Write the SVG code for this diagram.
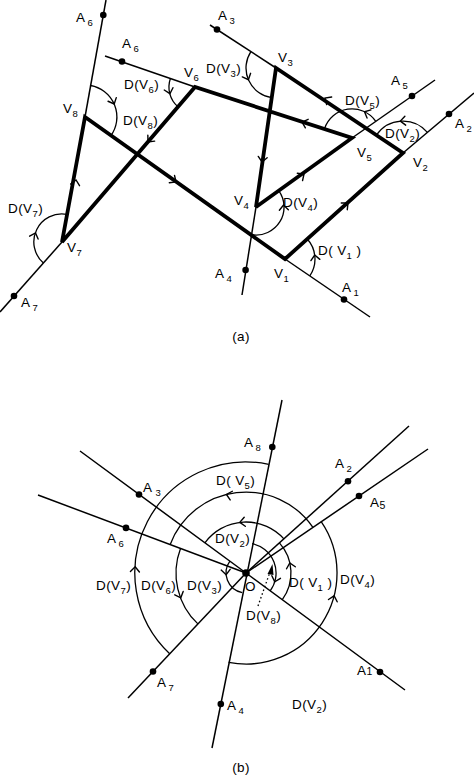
<svg xmlns="http://www.w3.org/2000/svg" xmlns:xlink="http://www.w3.org/1999/xlink" width="474" height="775" viewBox="0 0 474 775">
<style>
.thin{stroke:#000;stroke-width:1.5;fill:none}
.thick{stroke:#000;stroke-width:3.8;fill:none;stroke-linejoin:miter;stroke-miterlimit:2.5}
.arc{stroke:#000;stroke-width:1.3;fill:none}
.chev{stroke:#000;stroke-width:1.4;fill:none;stroke-linecap:round;stroke-linejoin:miter}
.dot{fill:#000}
.dotted{stroke:#000;stroke-width:1.3;fill:none;stroke-dasharray:1.5 2.5}
text{font-family:"Liberation Sans",Arial,sans-serif;font-size:13.5px;fill:#000;letter-spacing:0.4px}
.s{font-size:9.5px}
</style>
<defs>
<path id="chev" class="chev" d="M-5,-4.5 L0,0 L-5,4.5"/>
<circle id="pt" class="dot" r="3.3"/>
</defs>
<rect width="474" height="775" fill="#fff"/>

<!-- ================= (a) ================= -->
<g id="a-connectors">
<line class="thin" x1="106" y1="0" x2="85" y2="117"/>
<line class="thin" x1="0" y1="312" x2="62" y2="242"/>
<line class="thin" x1="105" y1="56" x2="195" y2="87"/>
<line class="thin" x1="210" y1="25" x2="276" y2="68"/>
<line class="thin" x1="256" y1="207" x2="242" y2="295"/>
<line class="thin" x1="352" y1="138" x2="435" y2="80"/>
<line class="thin" x1="403" y1="153" x2="474" y2="93"/>
<line class="thin" x1="285" y1="259" x2="370" y2="317"/>
<polygon class="thick" points="285,259 403,153 276,68 256,207 352,138 195,87 62,242 85,117"/>
<use xlink:href="#chev" transform="translate(348,203) rotate(-41.9)"/>
<use xlink:href="#chev" transform="translate(325,98) rotate(213.8)"/>
<use xlink:href="#chev" transform="translate(262,162) rotate(98.2)"/>
<use xlink:href="#chev" transform="translate(304,174) rotate(-35.7)"/>
<use xlink:href="#chev" transform="translate(302,122) rotate(198)"/>
<use xlink:href="#chev" transform="translate(148,142) rotate(130.6)"/>
<use xlink:href="#chev" transform="translate(76,180) rotate(-79.6)"/>
<use xlink:href="#chev" transform="translate(176,182) rotate(35.4)"/>
</g>

<g id="a-angles">
<path class="arc" d="M67,214.4 A28,28 0 0,0 43.4,263"/>
<use xlink:href="#chev" transform="translate(35.5,232.9) rotate(-71)"/>
<path class="arc" d="M90.7,85.5 A32,32 0 0,1 111,135.5"/>
<use xlink:href="#chev" transform="translate(114.2,104) rotate(66)"/>
<path class="arc" d="M170.4,78.5 A26,26 0 0,0 178,106.8"/>
<use xlink:href="#chev" transform="translate(169.9,93.7) rotate(75)"/>
<path class="arc" d="M250.9,51.6 A30,30 0 0,0 271.7,97.7"/>
<use xlink:href="#chev" transform="translate(248.4,79.7) rotate(67)"/>
<path class="arc" d="M324.4,129 A29,29 0 0,1 375.8,121.3"/>
<use xlink:href="#chev" transform="translate(364.5,111.8) rotate(205.6)"/>
<path class="arc" d="M376.4,135.2 A32,32 0 0,1 427.4,132.4"/>
<use xlink:href="#chev" transform="translate(400.3,121.1) rotate(175)"/>
<path class="arc" d="M278.7,190.6 A28,28 0 0,1 251.6,234.7"/>
<use xlink:href="#chev" transform="translate(283.5,205) rotate(-94)"/>
<path class="arc" d="M307.3,239 A30,30 0 0,1 309.8,275.9"/>
<use xlink:href="#chev" transform="translate(314.7,255) rotate(-97.6)"/>
</g>

<g id="a-points">
<use xlink:href="#pt" x="103.3" y="15"/>
<use xlink:href="#pt" x="122" y="61.5"/>
<use xlink:href="#pt" x="217" y="29.5"/>
<use xlink:href="#pt" x="412" y="96"/>
<use xlink:href="#pt" x="449" y="114"/>
<use xlink:href="#pt" x="344" y="299.5"/>
<use xlink:href="#pt" x="245.6" y="270"/>
<use xlink:href="#pt" x="14" y="296"/>
</g>

<g id="a-labels">
<text x="76" y="22">A<tspan class="s" dx="2" dy="4">6</tspan></text>
<text x="122" y="48">A<tspan class="s" dx="2" dy="4">6</tspan></text>
<text x="63" y="113">V<tspan class="s" dy="4">8</tspan></text>
<text x="184" y="77">V<tspan class="s" dy="4">6</tspan></text>
<text x="124" y="89">D(V<tspan class="s" dy="4">6</tspan><tspan dy="-4">)</tspan></text>
<text x="123" y="125">D(V<tspan class="s" dy="4">8</tspan><tspan dy="-4">)</tspan></text>
<text x="218" y="20">A<tspan class="s" dx="2" dy="4">3</tspan></text>
<text x="278" y="62">V<tspan class="s" dy="4">3</tspan></text>
<text x="206" y="73">D(V<tspan class="s" dy="4">3</tspan><tspan dy="-4">)</tspan></text>
<text x="391" y="85">A<tspan class="s" dx="2" dy="4">5</tspan></text>
<text x="345" y="105">D(V<tspan class="s" dy="4">5</tspan><tspan dy="-4">)</tspan></text>
<text x="385" y="138">D(V<tspan class="s" dy="4">2</tspan><tspan dy="-4">)</tspan></text>
<text x="455" y="128">A<tspan class="s" dx="2" dy="4">2</tspan></text>
<text x="357" y="157">V<tspan class="s" dy="4">5</tspan></text>
<text x="413" y="167">V<tspan class="s" dy="4">2</tspan></text>
<text x="234" y="205">V<tspan class="s" dy="4">4</tspan></text>
<text x="283" y="207">D(V<tspan class="s" dy="4">4</tspan><tspan dy="-4">)</tspan></text>
<text x="318" y="255">D( V<tspan class="s" dy="4">1</tspan><tspan dy="-4"> )</tspan></text>
<text x="67" y="252">V<tspan class="s" dy="4">7</tspan></text>
<text x="8" y="213">D(V<tspan class="s" dy="4">7</tspan><tspan dy="-4">)</tspan></text>
<text x="215" y="278">A<tspan class="s" dx="2" dy="4">4</tspan></text>
<text x="274" y="278">V<tspan class="s" dy="4">1</tspan></text>
<text x="342" y="292">A<tspan class="s" dx="2" dy="4">1</tspan></text>
<text x="21" y="307">A<tspan class="s" dx="2" dy="4">7</tspan></text>
<text x="241" y="341" text-anchor="middle">(a)</text>
</g>

<!-- ================= (b) ================= -->
<g id="b-connectors">
<line class="thin" x1="282" y1="400" x2="212" y2="748"/>
<polyline class="thin" points="80,451 246,573 405,690"/>
<line class="thin" x1="38" y1="495" x2="246" y2="573"/>
<line class="thin" x1="246" y1="573" x2="409" y2="426"/>
<line class="thin" x1="246" y1="573" x2="428" y2="449"/>
<line class="thin" x1="246" y1="573" x2="128" y2="698"/>
</g>

<g id="b-angles">
<path class="arc" d="M169.7,653.7 A111,111 0 0,1 268.7,464.3"/>
<use xlink:href="#chev" transform="translate(135.2,566.8) rotate(-86.8)"/>
<path class="arc" d="M180.5,548.4 A70,70 0 0,0 197.9,623.9"/>
<use xlink:href="#chev" transform="translate(180.8,597.8) rotate(68.7)"/>
<path class="arc" d="M312.9,527.4 A81,81 0 0,0 170.2,544.5"/>
<use xlink:href="#chev" transform="translate(226.4,494.4) rotate(194)"/>
<path class="arc" d="M283.9,538.9 A51,51 0 0,0 204.9,542.8"/>
<use xlink:href="#chev" transform="translate(239.8,522.4) rotate(173)"/>
<path class="arc" d="M229.9,561.2 A20,20 0 0,0 242.2,592.6"/>
<use xlink:href="#chev" transform="translate(226.1,574.7) rotate(85)"/>
<path class="arc" d="M228.6,662.3 A91,91 0 0,0 321.2,521.7"/>
<use xlink:href="#chev" transform="translate(334.1,595.8) rotate(-75.5)"/>
<path class="arc" d="M282.3,599.6 A45,45 0 0,0 279.4,542.9"/>
<use xlink:href="#chev" transform="translate(289.8,562.9) rotate(-103)"/>
<path class="arc" d="M252.1,543.6 A30,30 0 0,1 270.2,590.8"/>
<use xlink:href="#chev" transform="translate(274.7,581.8) rotate(107)"/>
<line class="dotted" x1="258" y1="606" x2="270" y2="572"/>
<polygon class="dot" points="272.5,564 267.5,574 273.5,575"/>
</g>

<g id="b-points">
<use xlink:href="#pt" x="272.3" y="447"/>
<use xlink:href="#pt" x="348" y="481.2"/>
<use xlink:href="#pt" x="359" y="496"/>
<use xlink:href="#pt" x="139" y="494.5"/>
<use xlink:href="#pt" x="126" y="527.9"/>
<use xlink:href="#pt" x="153" y="671.5"/>
<use xlink:href="#pt" x="220.8" y="704"/>
<use xlink:href="#pt" x="380" y="672"/>
<circle class="dot" cx="246" cy="573" r="3.8"/>
</g>

<g id="b-labels">
<text x="244" y="447">A<tspan class="s" dx="2" dy="4">8</tspan></text>
<text x="335" y="468">A<tspan class="s" dx="2" dy="4">2</tspan></text>
<text x="370" y="507">A<tspan dy="2" font-size="10.5">5</tspan></text>
<text x="143" y="492">A<tspan class="s" dx="3" dy="4">3</tspan></text>
<text x="107" y="543">A<tspan class="s" dx="2" dy="4">6</tspan></text>
<text x="216" y="485">D( V<tspan class="s" dy="4">5</tspan><tspan dy="-4">)</tspan></text>
<text x="215" y="543">D(V<tspan class="s" dy="4">2</tspan><tspan dy="-4">)</tspan></text>
<text x="96" y="590">D(V<tspan class="s" dy="4">7</tspan><tspan dy="-4">)</tspan></text>
<text x="141" y="590">D(V<tspan class="s" dy="4">6</tspan><tspan dy="-4">)</tspan></text>
<text x="187" y="590">D(V<tspan class="s" dy="4">3</tspan><tspan dy="-4">)</tspan></text>
<text x="245" y="591">O</text>
<text x="289" y="587">D( V<tspan class="s" dy="4">1</tspan><tspan dy="-4"> )</tspan></text>
<text x="340" y="584">D(V<tspan class="s" dy="4">4</tspan><tspan dy="-4">)</tspan></text>
<text x="246" y="620">D(V<tspan class="s" dy="4">8</tspan><tspan dy="-4">)</tspan></text>
<text x="357" y="675">A<tspan font-size="10.5">1</tspan></text>
<text x="157" y="687">A<tspan class="s" dx="2" dy="4">7</tspan></text>
<text x="227" y="710">A<tspan class="s" dx="2" dy="4">4</tspan></text>
<text x="292" y="709">D(V<tspan class="s" dy="4">2</tspan><tspan dy="-4">)</tspan></text>
<text x="241" y="772" text-anchor="middle">(b)</text>
</g>
</svg>
